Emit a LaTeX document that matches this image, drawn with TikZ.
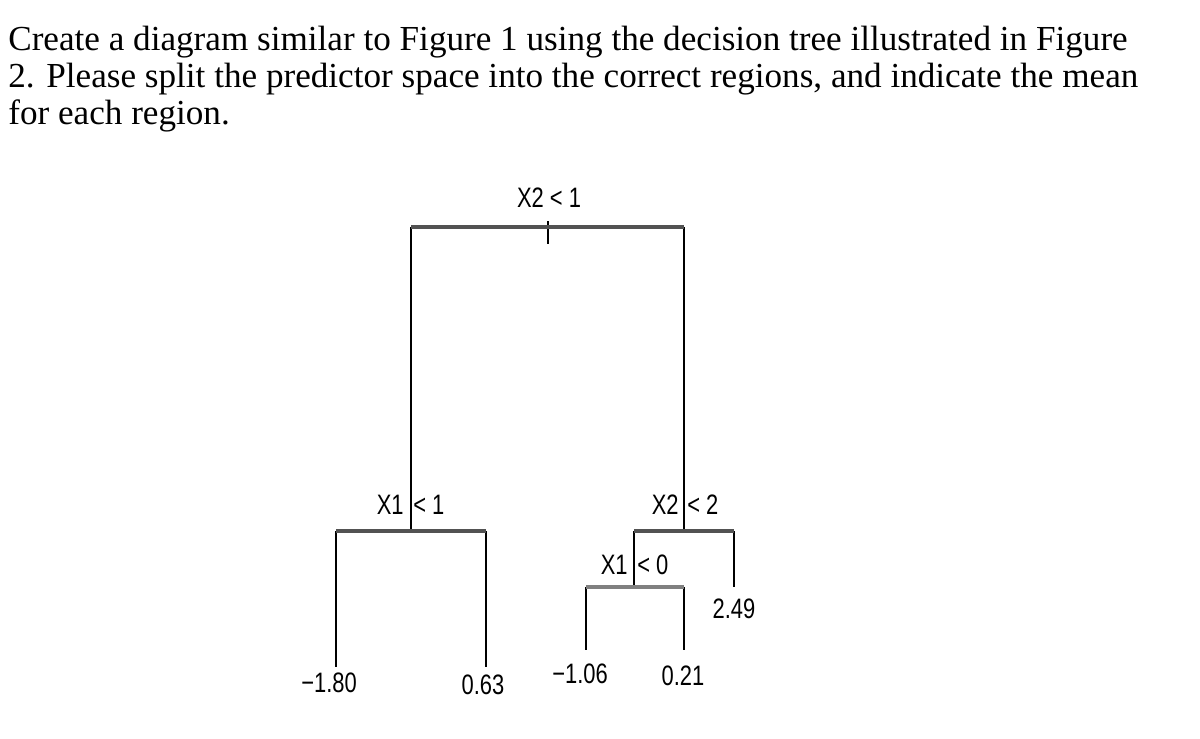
\documentclass[tikz,border=0pt]{standalone}
\usepackage{fontspec}
\setmainfont{Liberation Serif}
\setsansfont{Liberation Sans}
\usetikzlibrary{calc}

\newcommand{\narrow}[1]{\scalebox{0.78}[1]{#1}}

\begin{document}
\begin{tikzpicture}[x=0.02cm,y=-0.02cm,line cap=butt,line join=miter,
    bar/.style={line width=1.9pt,black!68},
    stem/.style={line width=0.8pt,black},
    lbl/.style={font=\sffamily\fontsize{16}{16}\selectfont,anchor=base,inner sep=0pt},
    lvar/.style={lbl,anchor=base east},
    lval/.style={lbl,anchor=base west},
    txt/.style={font=\fontsize{20}{24}\selectfont,anchor=base west,inner sep=0pt}]
        \useasboundingbox (0,0) rectangle (1200,738);

        % question text
        \node[txt] (line1) at (8,50) {Create a diagram similar to Figure 1 using the decision tree illustrated in Figure};
        \node[txt] (line2) at (8,87) {2. Please split the predictor space into the correct regions, and indicate the mean};
        \node[txt] (line3) at (8,124) {for each region.};

        % split points
        \coordinate (root) at (548,227);
        \coordinate (rootL) at (411,227);
        \coordinate (rootR) at (684,227);
        \coordinate (tickT) at (548,221);
        \coordinate (tickB) at (548,244);
        \coordinate (splitA) at (411,531);
        \coordinate (splitAL) at (336,531);
        \coordinate (splitAR) at (486,531);
        \coordinate (splitB) at (684,531);
        \coordinate (splitBL) at (634,531);
        \coordinate (splitBR) at (734,531);
        \coordinate (splitC) at (634,587);
        \coordinate (splitCL) at (586,587);
        \coordinate (splitCR) at (684,587);

        % leaves
        \coordinate (leafA) at (336,667);
        \coordinate (leafB) at (486,667);
        \coordinate (leafC) at (586,650);
        \coordinate (leafD) at (684,650);
        \coordinate (leafE) at (734,587);

        \draw [stem] (rootL) -- (splitA);
        \draw [stem] (rootR) -- (splitB);
        \draw [stem] (splitAL) -- (leafA);
        \draw [stem] (splitAR) -- (leafB);
        \draw [stem] (splitBL) -- (splitC);
        \draw [stem] (splitBR) -- (leafE);
        \draw [stem] (splitCL) -- (leafC);
        \draw [stem] (splitCR) -- (leafD);
        \draw [stem] (tickT) -- (tickB);

        \draw [bar] (rootL) -- (rootR);
        \draw [bar] (splitAL) -- (splitAR);
        \draw [bar] (splitBL) -- (splitBR);
        \draw [bar,black!50] (splitCL) -- (splitCR);

        % split labels
        \node[lbl] (labRoot) at (549,207) {\narrow{X2 < 1}};
        \node[lvar] (labAvar) at (404,514) {\narrow{X1}};
        \node[lval] (labAval) at (413,514) {\narrow{< 1}};
        \node[lvar] (labBvar) at (679,514) {\narrow{X2}};
        \node[lval] (labBval) at (687,514) {\narrow{< 2}};
        \node[lvar] (labCvar) at (628,574) {\narrow{X1}};
        \node[lval] (labCval) at (637,574) {\narrow{< 0}};

        % leaf means
        \node[lbl] (valA) at (329,692) {\narrow{−1.80}};
        \node[lbl] (valB) at (483,694) {\narrow{0.63}};
        \node[lbl] (valC) at (580,683) {\narrow{−1.06}};
        \node[lbl] (valD) at (683,685) {\narrow{0.21}};
        \node[lbl] (valE) at (734,618) {\narrow{2.49}};
        \end{tikzpicture}
\end{document}
